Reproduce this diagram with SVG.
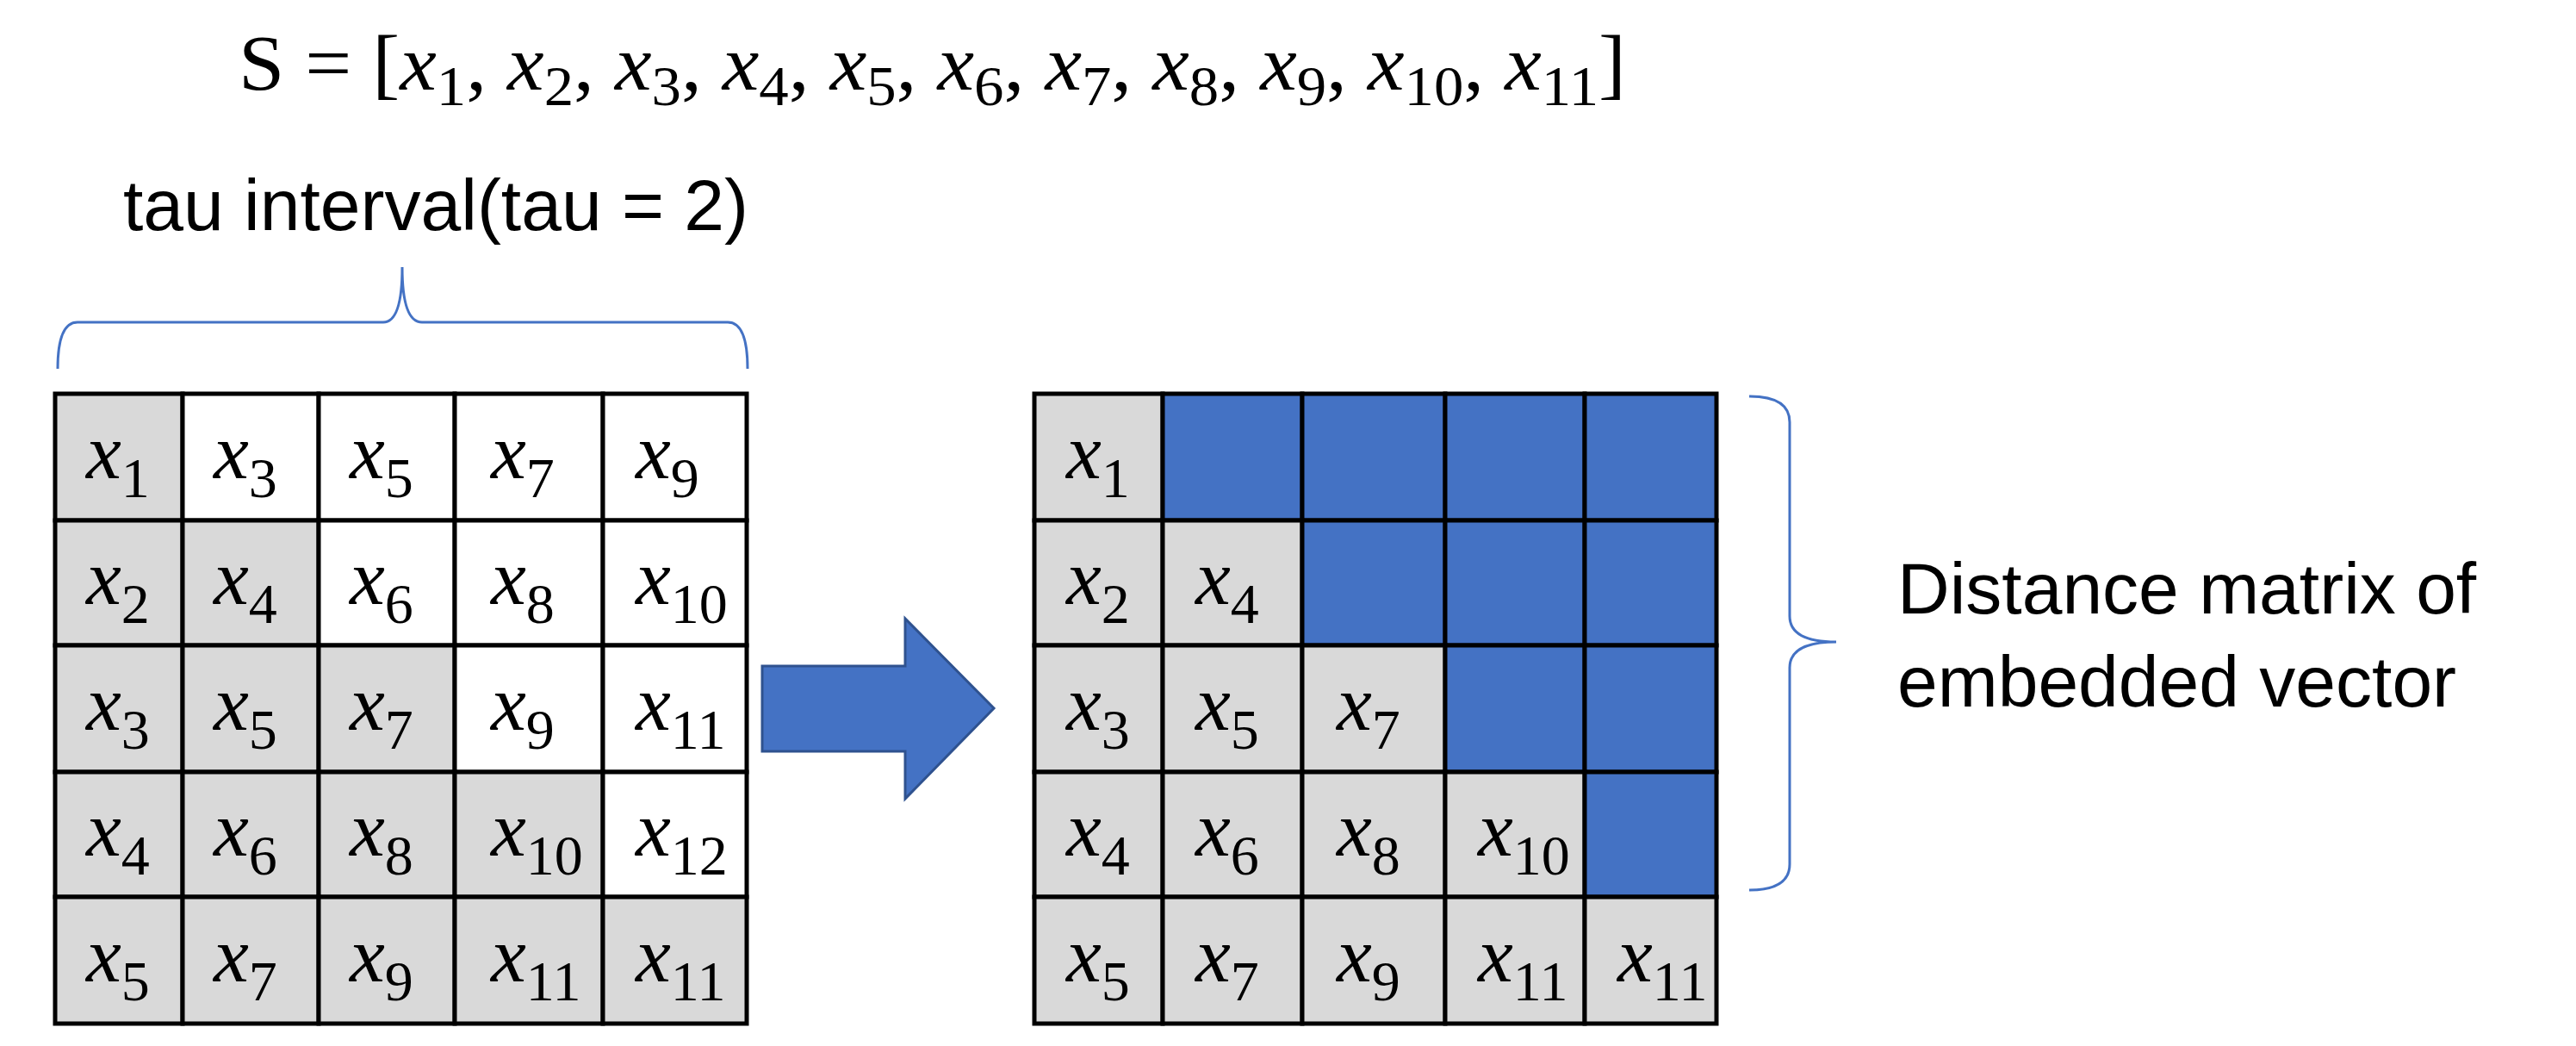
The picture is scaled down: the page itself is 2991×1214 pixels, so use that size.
<svg xmlns="http://www.w3.org/2000/svg" width="2991" height="1214" viewBox="0 0 2991 1214">
<style>
.g{fill:#d9d9d9;stroke:#000;stroke-width:5}
.w{fill:#fff;stroke:#000;stroke-width:5}
.b{fill:#4472c4;stroke:#000;stroke-width:5}
.c{font-family:"Liberation Serif",serif;font-size:92px;fill:#000}
.c tspan.v{font-style:italic}
.s{font-size:66px}
.t{font-family:"Liberation Sans",sans-serif;font-size:84px;fill:#000}
.br{fill:none;stroke:#4472c4;stroke-width:3}
</style>
<rect width="2991" height="1214" fill="#fff"/>
<text class="c" x="277" y="104" textLength="1611" lengthAdjust="spacingAndGlyphs">S = [<tspan class="v">x</tspan><tspan class="s" dy="18">1</tspan><tspan dy="-18">, </tspan><tspan class="v">x</tspan><tspan class="s" dy="18">2</tspan><tspan dy="-18">, </tspan><tspan class="v">x</tspan><tspan class="s" dy="18">3</tspan><tspan dy="-18">, </tspan><tspan class="v">x</tspan><tspan class="s" dy="18">4</tspan><tspan dy="-18">, </tspan><tspan class="v">x</tspan><tspan class="s" dy="18">5</tspan><tspan dy="-18">, </tspan><tspan class="v">x</tspan><tspan class="s" dy="18">6</tspan><tspan dy="-18">, </tspan><tspan class="v">x</tspan><tspan class="s" dy="18">7</tspan><tspan dy="-18">, </tspan><tspan class="v">x</tspan><tspan class="s" dy="18">8</tspan><tspan dy="-18">, </tspan><tspan class="v">x</tspan><tspan class="s" dy="18">9</tspan><tspan dy="-18">, </tspan><tspan class="v">x</tspan><tspan class="s" dy="18">10</tspan><tspan dy="-18">, </tspan><tspan class="v">x</tspan><tspan class="s" dy="18">11</tspan><tspan dy="-18">]</tspan></text>
<text class="t" x="143" y="267">tau interval(tau = 2)</text>
<text class="t" x="2203" y="712">Distance matrix of</text>
<text class="t" x="2203" y="820">embedded vector</text>
<g id="connectors">
<path class="br" d="M67,428 Q67,374 90,374 L445,374 Q467,374 467,310 Q467,374 490,374 L845,374 Q868,374 868,428"/>
<path class="br" d="M2031,460 Q2078,460 2078,490 L2078,715 Q2078,745 2132,745 Q2078,745 2078,775 L2078,1003 Q2078,1033 2031,1033"/>
<path d="M885,773 L1051,773 L1051,718 L1154,822 L1051,927 L1051,872 L885,872 Z" fill="#4472c4" stroke="#2f528f" stroke-width="3"/>
</g>
<g id="left-matrix">
<rect class="g" x="64" y="457" width="148" height="147"/><rect class="w" x="212" y="457" width="158" height="147"/><rect class="w" x="370" y="457" width="158" height="147"/><rect class="w" x="528" y="457" width="172" height="147"/><rect class="w" x="700" y="457" width="167" height="147"/>
<rect class="g" x="64" y="604" width="148" height="145"/><rect class="g" x="212" y="604" width="158" height="145"/><rect class="w" x="370" y="604" width="158" height="145"/><rect class="w" x="528" y="604" width="172" height="145"/><rect class="w" x="700" y="604" width="167" height="145"/>
<rect class="g" x="64" y="749" width="148" height="147"/><rect class="g" x="212" y="749" width="158" height="147"/><rect class="g" x="370" y="749" width="158" height="147"/><rect class="w" x="528" y="749" width="172" height="147"/><rect class="w" x="700" y="749" width="167" height="147"/>
<rect class="g" x="64" y="896" width="148" height="145"/><rect class="g" x="212" y="896" width="158" height="145"/><rect class="g" x="370" y="896" width="158" height="145"/><rect class="g" x="528" y="896" width="172" height="145"/><rect class="w" x="700" y="896" width="167" height="145"/>
<rect class="g" x="64" y="1041" width="148" height="147"/><rect class="g" x="212" y="1041" width="158" height="147"/><rect class="g" x="370" y="1041" width="158" height="147"/><rect class="g" x="528" y="1041" width="172" height="147"/><rect class="g" x="700" y="1041" width="167" height="147"/>
<g class="c">
<text x="100" y="555"><tspan class="v">x</tspan><tspan class="s" dy="22">1</tspan></text><text x="248" y="555"><tspan class="v">x</tspan><tspan class="s" dy="22">3</tspan></text><text x="406" y="555"><tspan class="v">x</tspan><tspan class="s" dy="22">5</tspan></text><text x="570" y="555"><tspan class="v">x</tspan><tspan class="s" dy="22">7</tspan></text><text x="738" y="555"><tspan class="v">x</tspan><tspan class="s" dy="22">9</tspan></text>
<text x="100" y="701"><tspan class="v">x</tspan><tspan class="s" dy="22">2</tspan></text><text x="248" y="701"><tspan class="v">x</tspan><tspan class="s" dy="22">4</tspan></text><text x="406" y="701"><tspan class="v">x</tspan><tspan class="s" dy="22">6</tspan></text><text x="570" y="701"><tspan class="v">x</tspan><tspan class="s" dy="22">8</tspan></text><text x="738" y="701"><tspan class="v">x</tspan><tspan class="s" dy="22">10</tspan></text>
<text x="100" y="847"><tspan class="v">x</tspan><tspan class="s" dy="22">3</tspan></text><text x="248" y="847"><tspan class="v">x</tspan><tspan class="s" dy="22">5</tspan></text><text x="406" y="847"><tspan class="v">x</tspan><tspan class="s" dy="22">7</tspan></text><text x="570" y="847"><tspan class="v">x</tspan><tspan class="s" dy="22">9</tspan></text><text x="738" y="847"><tspan class="v">x</tspan><tspan class="s" dy="22">11</tspan></text>
<text x="100" y="993"><tspan class="v">x</tspan><tspan class="s" dy="22">4</tspan></text><text x="248" y="993"><tspan class="v">x</tspan><tspan class="s" dy="22">6</tspan></text><text x="406" y="993"><tspan class="v">x</tspan><tspan class="s" dy="22">8</tspan></text><text x="570" y="993"><tspan class="v">x</tspan><tspan class="s" dy="22">10</tspan></text><text x="738" y="993"><tspan class="v">x</tspan><tspan class="s" dy="22">12</tspan></text>
<text x="100" y="1139"><tspan class="v">x</tspan><tspan class="s" dy="22">5</tspan></text><text x="248" y="1139"><tspan class="v">x</tspan><tspan class="s" dy="22">7</tspan></text><text x="406" y="1139"><tspan class="v">x</tspan><tspan class="s" dy="22">9</tspan></text><text x="570" y="1139"><tspan class="v">x</tspan><tspan class="s" dy="22">11</tspan></text><text x="738" y="1139"><tspan class="v">x</tspan><tspan class="s" dy="22">11</tspan></text>
</g>
</g>
<g id="right-matrix">
<rect class="g" x="1201" y="457" width="149" height="147"/><rect class="b" x="1350" y="457" width="162" height="147"/><rect class="b" x="1512" y="457" width="166" height="147"/><rect class="b" x="1678" y="457" width="162" height="147"/><rect class="b" x="1840" y="457" width="153" height="147"/>
<rect class="g" x="1201" y="604" width="149" height="145"/><rect class="g" x="1350" y="604" width="162" height="145"/><rect class="b" x="1512" y="604" width="166" height="145"/><rect class="b" x="1678" y="604" width="162" height="145"/><rect class="b" x="1840" y="604" width="153" height="145"/>
<rect class="g" x="1201" y="749" width="149" height="147"/><rect class="g" x="1350" y="749" width="162" height="147"/><rect class="g" x="1512" y="749" width="166" height="147"/><rect class="b" x="1678" y="749" width="162" height="147"/><rect class="b" x="1840" y="749" width="153" height="147"/>
<rect class="g" x="1201" y="896" width="149" height="145"/><rect class="g" x="1350" y="896" width="162" height="145"/><rect class="g" x="1512" y="896" width="166" height="145"/><rect class="g" x="1678" y="896" width="162" height="145"/><rect class="b" x="1840" y="896" width="153" height="145"/>
<rect class="g" x="1201" y="1041" width="149" height="147"/><rect class="g" x="1350" y="1041" width="162" height="147"/><rect class="g" x="1512" y="1041" width="166" height="147"/><rect class="g" x="1678" y="1041" width="162" height="147"/><rect class="g" x="1840" y="1041" width="153" height="147"/>
<g class="c">
<text x="1238" y="555"><tspan class="v">x</tspan><tspan class="s" dy="22">1</tspan></text>
<text x="1238" y="701"><tspan class="v">x</tspan><tspan class="s" dy="22">2</tspan></text><text x="1388" y="701"><tspan class="v">x</tspan><tspan class="s" dy="22">4</tspan></text>
<text x="1238" y="847"><tspan class="v">x</tspan><tspan class="s" dy="22">3</tspan></text><text x="1388" y="847"><tspan class="v">x</tspan><tspan class="s" dy="22">5</tspan></text><text x="1552" y="847"><tspan class="v">x</tspan><tspan class="s" dy="22">7</tspan></text>
<text x="1238" y="993"><tspan class="v">x</tspan><tspan class="s" dy="22">4</tspan></text><text x="1388" y="993"><tspan class="v">x</tspan><tspan class="s" dy="22">6</tspan></text><text x="1552" y="993"><tspan class="v">x</tspan><tspan class="s" dy="22">8</tspan></text><text x="1716" y="993"><tspan class="v">x</tspan><tspan class="s" dy="22">10</tspan></text>
<text x="1238" y="1139"><tspan class="v">x</tspan><tspan class="s" dy="22">5</tspan></text><text x="1388" y="1139"><tspan class="v">x</tspan><tspan class="s" dy="22">7</tspan></text><text x="1552" y="1139"><tspan class="v">x</tspan><tspan class="s" dy="22">9</tspan></text><text x="1716" y="1139"><tspan class="v">x</tspan><tspan class="s" dy="22">11</tspan></text><text x="1878" y="1139"><tspan class="v">x</tspan><tspan class="s" dy="22">11</tspan></text>
</g>
</g>
</svg>
